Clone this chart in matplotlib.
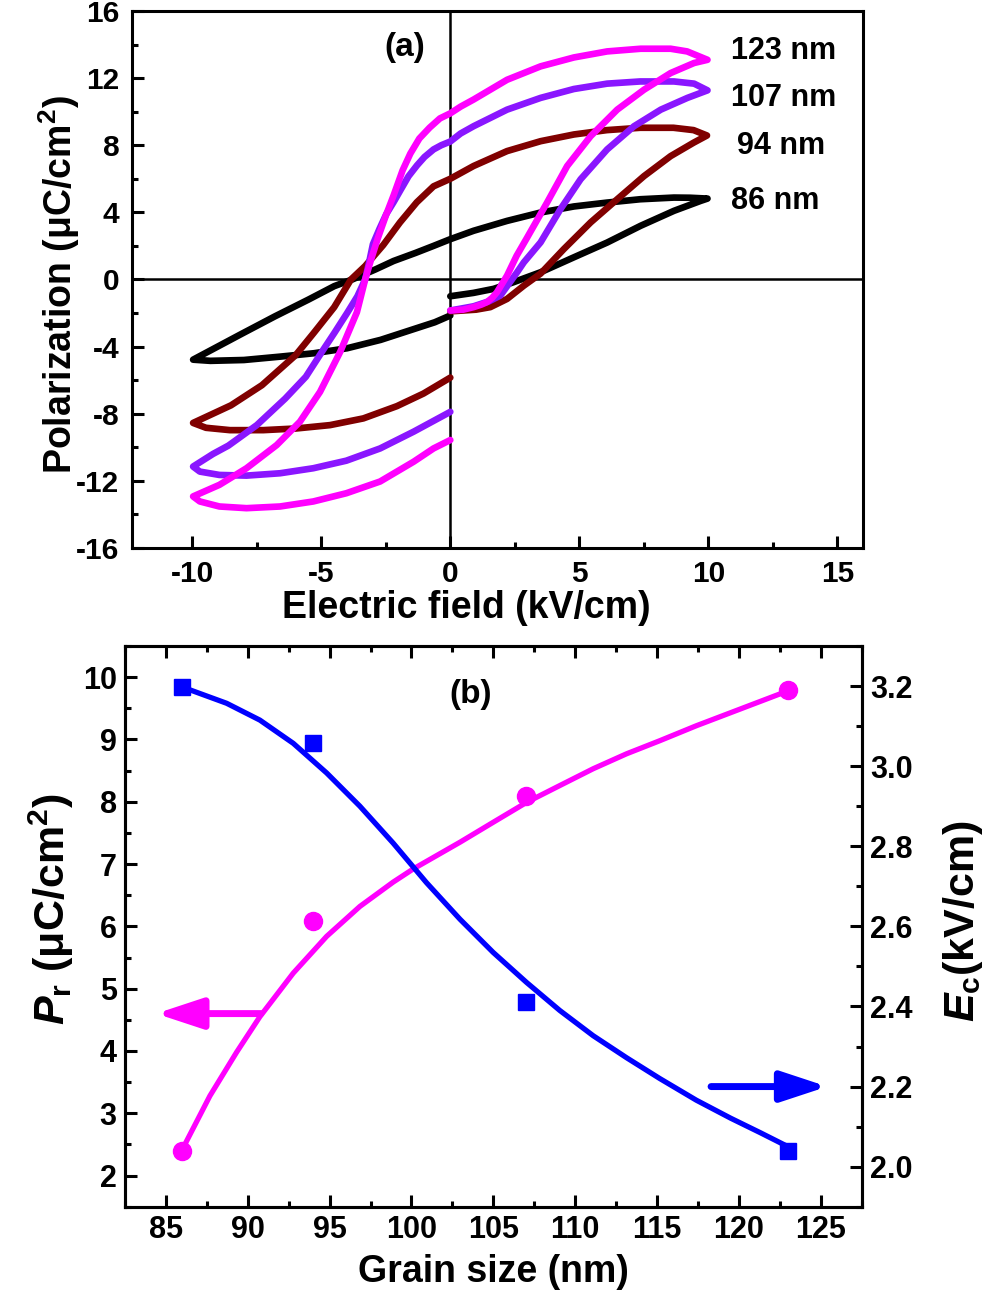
import matplotlib
matplotlib.use('Agg')
import matplotlib.pyplot as plt
from matplotlib.ticker import MultipleLocator, FormatStrFormatter

plt.rcParams['font.family'] = ['Liberation Sans', 'DejaVu Sans']
plt.rcParams['font.weight'] = 'bold'
plt.rcParams['axes.unicode_minus'] = False
plt.rcParams['mathtext.fontset'] = 'custom'
plt.rcParams['mathtext.rm'] = 'Liberation Sans:bold'
plt.rcParams['mathtext.it'] = 'Liberation Sans:bold:italic'
plt.rcParams['mathtext.bf'] = 'Liberation Sans:bold'

# ---------------- (a) P-E hysteresis loops ----------------
E_86 = [0, 0.9, 1.68, 2.44, 3.5, 4.79, 6.08, 7.38, 8.67, 9.7, 9.97,
        9.3, 8.67, 7.36, 6.07, 4.79, 3.5, 2.2, 0.9, 0, -0.65, -1.35, -2.2, -2.9, -3.8,
        -4.5, -5.5, -6.8, -8.1, -9.2, -9.97,
        -9.3, -8.0, -6.6, -5.3, -4.0, -2.7, -1.4, -0.6, 0]
P_86 = [-1.0, -0.8, -0.56, -0.17, 0.43, 1.32, 2.2, 3.2, 4.09, 4.68, 4.82,
        4.87, 4.88, 4.78, 4.58, 4.35, 3.99, 3.49, 2.9, 2.4, 2.0, 1.58, 1.1, 0.6, 0.0,
        -0.4, -1.2, -2.2, -3.25, -4.15, -4.78,
        -4.85, -4.8, -4.6, -4.4, -4.1, -3.6, -2.95, -2.55, -2.15]

E_94 = [0, 1.0, 1.55, 2.2, 2.85, 3.5, 4.4, 5.44, 6.47, 7.51, 8.54, 9.43, 9.95,
        9.43, 8.65, 7.36, 6.07, 4.79, 3.5, 2.2, 0.9, 0, -0.65, -1.3, -1.95, -2.6, -3.3, -3.85,
        -4.5, -5.3, -6.0, -7.3, -8.5, -9.2, -9.97,
        -9.47, -8.54, -7.25, -5.97, -4.66, -3.37, -2.07, -1.04, 0]
P_94 = [-1.9, -1.8, -1.65, -1.16, -0.37, 0.35, 1.81, 3.4, 4.78, 6.16, 7.35, 8.15, 8.58,
        8.9, 9.04, 9.04, 8.9, 8.64, 8.24, 7.65, 6.76, 6.0, 5.55, 4.6, 3.4, 2.05, 0.8, 0.0,
        -1.65, -3.2, -4.52, -6.3, -7.5, -8.0, -8.55,
        -8.84, -8.98, -8.98, -8.88, -8.68, -8.28, -7.55, -6.8, -5.85]

E_107 = [0, 0.9, 1.5, 1.94, 2.31, 2.59, 2.85, 3.5, 4.27, 5.05, 6.08, 7.12, 8.16, 9.19, 9.97,
         9.45, 8.67, 7.36, 6.08, 4.79, 3.5, 2.2, 0.9, 0.4, 0, -0.35, -0.65, -1.0, -1.29, -1.62,
         -1.94, -2.2, -2.48, -2.75, -3.0, -3.15, -3.3,
         -3.6, -4.0, -4.5, -4.9, -5.6, -6.4, -7.5, -8.6, -9.2, -9.97,
         -9.71, -8.95, -7.9, -6.6, -5.31, -4.03, -2.72, -1.42, 0]
P_107 = [-1.85, -1.6, -1.3, -0.96, -0.17, 0.43, 1.02, 2.21, 4.19, 5.97, 7.75, 9.13, 10.12, 10.82, 11.27,
         11.67, 11.8, 11.8, 11.67, 11.35, 10.82, 10.12, 9.13, 8.7, 8.22, 8.0, 7.75, 7.3, 6.8, 6.15,
         5.3, 4.6, 3.9, 3.0, 2.1, 1.0, 0.0,
         -1.0, -2.0, -3.2, -4.13, -5.8, -7.1, -8.68, -9.9, -10.4, -11.15,
         -11.45, -11.65, -11.69, -11.55, -11.25, -10.8, -10.07, -9.07, -7.89]

E_123 = [0, 0.5, 0.9, 1.2, 1.42, 1.62, 1.81, 2.2, 2.57, 2.98, 3.75, 4.53, 5.44, 6.47, 7.51, 8.54, 9.45, 9.97,
         9.18, 8.54, 7.38, 6.08, 4.79, 3.5, 2.2, 0.9, 0.4, 0, -0.4, -0.8, -1.2, -1.55, -1.85, -2.2,
         -2.5, -2.8, -3.05, -3.3,
         -3.62, -4.27, -5.05, -5.83, -6.73, -7.9, -8.95, -9.97,
         -9.71, -8.95, -7.9, -6.6, -5.31, -4.03, -2.72, -1.42, -0.65, 0]
P_123 = [-1.85, -1.8, -1.65, -1.5, -1.35, -1.1, -0.76, 0.23, 1.41, 2.5, 4.58, 6.76, 8.54, 10.12, 11.31, 12.3, 12.9, 13.09,
         13.59, 13.75, 13.75, 13.59, 13.23, 12.7, 11.9, 10.72, 10.3, 9.9, 9.6, 9.05, 8.4, 7.5, 6.5, 5.0,
         3.8, 2.5, 1.3, 0.0,
         -1.95, -4.32, -6.7, -8.48, -9.87, -11.25, -12.24, -12.93,
         -13.23, -13.53, -13.63, -13.53, -13.23, -12.74, -12.04, -10.86, -10.07, -9.57]

loop_labels = ['86 nm', '94 nm', '107 nm', '123 nm']
loop_colors = ['#000000', '#800000', '#8A16FF', '#FF00FF']

# ---------------- (b) Pr and Ec vs grain size ----------------
grain = [86, 94, 107, 123]
Pr = [2.4, 6.09, 8.1, 9.8]
Ec = [3.197, 3.057, 2.41, 2.04]

pr_fit_x = [86.16, 87.69, 89.32, 90.74, 92.78, 94.82, 96.85, 98.88, 100.1, 102.96, 104.99, 107.03,
            109.06, 111.1, 113.14, 115.17, 117.4, 120.2, 123.0]
pr_fit_y = [2.5, 3.28, 3.98, 4.55, 5.25, 5.84, 6.32, 6.71, 6.92, 7.35, 7.67, 7.99,
            8.26, 8.53, 8.77, 8.98, 9.22, 9.5, 9.78]
ec_fit_x = [86.1, 88.71, 90.74, 92.78, 94.82, 96.85, 98.88, 100.92, 102.96, 104.99, 107.03,
            109.06, 111.1, 113.14, 115.17, 117.4, 119.5, 121.3, 123.0]
ec_fit_y = [3.196, 3.157, 3.115, 3.057, 2.983, 2.900, 2.808, 2.709, 2.618, 2.535, 2.460,
            2.390, 2.327, 2.272, 2.220, 2.166, 2.121, 2.085, 2.05]

fig = plt.figure(figsize=(9.91, 12.92), dpi=100)

SP = 2.2
TL = 21.5
AL = 27

# ---- panel (a)
axa = fig.add_axes([0.1329, 0.5759, 0.7380, 0.4156])
axa.axhline(0, color='k', lw=1.8, zorder=1)
axa.axvline(0, color='k', lw=1.8, zorder=1)
for E, P, c in zip([E_86, E_94, E_107, E_123], [P_86, P_94, P_107, P_123], loop_colors):
    axa.plot(E, P, color=c, lw=4.8, solid_joinstyle='round', solid_capstyle='round', zorder=3)
axa.set_xlim(-12.35, 16.0)
axa.set_ylim(-16, 16)
axa.xaxis.set_major_locator(MultipleLocator(5))
axa.xaxis.set_minor_locator(MultipleLocator(2.5))
axa.yaxis.set_major_locator(MultipleLocator(4))
axa.yaxis.set_minor_locator(MultipleLocator(2))
axa.tick_params(which='both', direction='in', top=False, right=False, width=SP, labelsize=TL, pad=9)
axa.tick_params(which='major', length=8.5)
axa.tick_params(which='minor', length=4.5)
for s in axa.spines.values():
    s.set_linewidth(SP)
axa.set_xlabel('Electric field (kV/cm)', fontsize=AL, fontweight='bold')
axa.set_ylabel('Polarization (μC/cm$^2$)', fontsize=AL, fontweight='bold')
axa.xaxis.set_label_coords(0.458, -0.078)
axa.yaxis.set_label_coords(-0.068, 0.49)
axa.text(-1.75, 13.8, '(a)', fontsize=24, fontweight='bold', ha='center', va='center')
label_pos = {'123 nm': (10.87, 13.59), '107 nm': (10.87, 10.82), '94 nm': (11.1, 7.95), '86 nm': (10.87, 4.68)}
for lab in loop_labels:
    x, y = label_pos[lab]
    axa.text(x, y, lab, fontsize=22, fontweight='bold', ha='left', va='center')

# ---- panel (b)
axb = fig.add_axes([0.1261, 0.0660, 0.7434, 0.4340])
ax2 = axb.twinx()
axb.plot(pr_fit_x, pr_fit_y, color='#FF00FF', lw=3.8, zorder=2, solid_joinstyle='round')
axb.plot(grain, Pr, 'o', color='#FF00FF', ms=13, zorder=3)
ax2.plot(ec_fit_x, ec_fit_y, color='#0000FF', lw=3.8, zorder=2, solid_joinstyle='round')
ax2.plot(grain, Ec, 's', color='#0000FF', ms=12, zorder=3)
axb.set_xlim(82.5, 127.5)
axb.set_ylim(1.5, 10.5)
ax2.set_ylim(1.9, 3.3)
axb.xaxis.set_major_locator(MultipleLocator(5))
axb.xaxis.set_minor_locator(MultipleLocator(2.5))
axb.yaxis.set_major_locator(MultipleLocator(1))
axb.yaxis.set_minor_locator(MultipleLocator(0.5))
ax2.yaxis.set_major_locator(MultipleLocator(0.2))
ax2.yaxis.set_minor_locator(MultipleLocator(0.1))
ax2.yaxis.set_major_formatter(FormatStrFormatter('%.1f'))
axb.tick_params(which='both', direction='in', top=True, right=False, width=SP, labelsize=22, pad=6)
ax2.tick_params(which='both', direction='in', width=SP, labelsize=22, pad=6)
for a in (axb, ax2):
    a.tick_params(which='major', length=8.5)
    a.tick_params(which='minor', length=4.5)
    for s in a.spines.values():
        s.set_linewidth(SP)
axb.set_xlabel('Grain size (nm)', fontsize=AL, fontweight='bold')
axb.set_ylabel('$\\mathit{P}_{\\mathrm{r}}$ (μC/cm$^2$)', fontsize=31, fontweight='bold')
ax2.set_ylabel('$\\mathit{E}_{\\mathrm{c}}$(kV/cm)', fontsize=31, fontweight='bold')
axb.xaxis.set_label_coords(0.5, -0.085)
axb.yaxis.set_label_coords(-0.066, 0.53)
ax2.yaxis.set_label_coords(1.108, 0.51)
axb.text(103.6, 9.72, '(b)', fontsize=24, fontweight='bold', ha='center', va='center')
axb.annotate('', xy=(84.4, 4.6), xytext=(90.8, 4.6),
             arrowprops=dict(arrowstyle='-|>,head_length=1.0,head_width=0.33', mutation_scale=28,
                             lw=5, color='#FF00FF', shrinkA=0, shrinkB=0))
ax2.annotate('', xy=(125.4, 2.2), xytext=(118.3, 2.2),
             arrowprops=dict(arrowstyle='-|>,head_length=1.0,head_width=0.33', mutation_scale=28,
                             lw=5, color='#0000FF', shrinkA=0, shrinkB=0))

fig.savefig('out.png', dpi=100)
